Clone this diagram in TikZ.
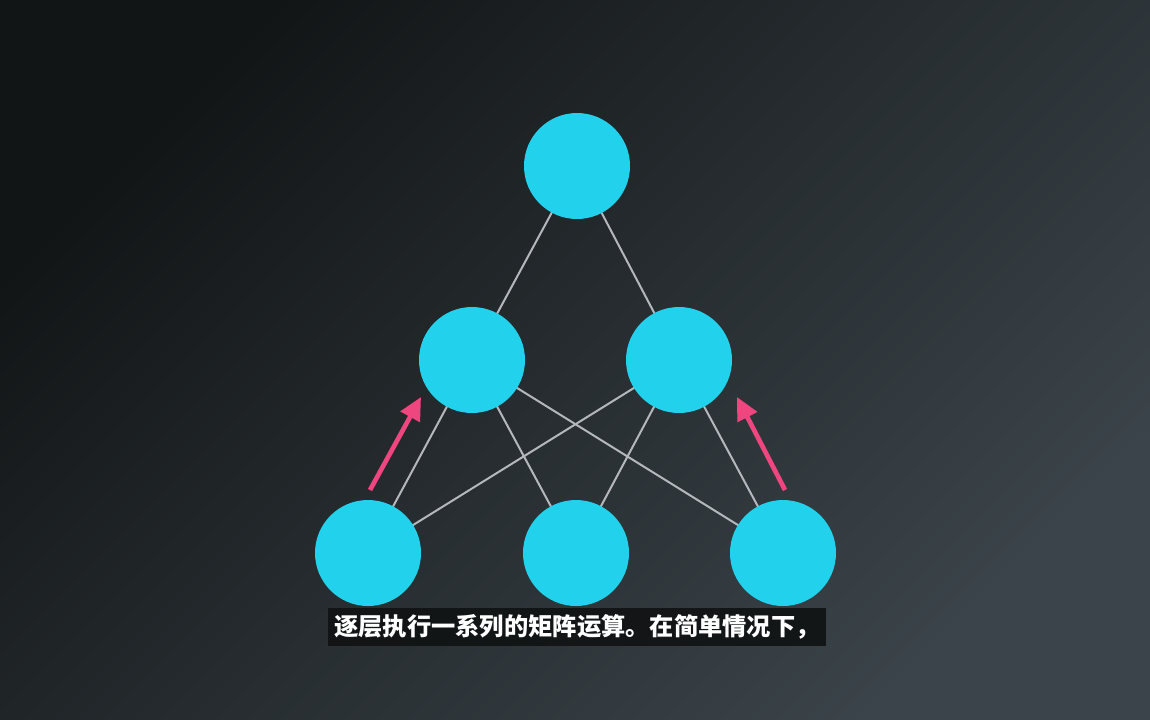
\documentclass[tikz,border=0pt]{standalone}
\usepackage{fontspec}
\newfontfamily\cjk{Noto Sans CJK SC}
\usepackage{tikz}
\usetikzlibrary{arrows.meta}
\definecolor{bgdark}{HTML}{121516}
\definecolor{bglight}{HTML}{3B444A}
\definecolor{neuron}{HTML}{22D1EC}
\definecolor{wire}{HTML}{B4B8BC}
\definecolor{flow}{HTML}{F0467F}
\definecolor{capbg}{HTML}{101213}
\pgfdeclarelayer{back}
\pgfdeclarelayer{wires}
\pgfsetlayers{back,wires,main}

\begin{document}
\begin{tikzpicture}[x=0.75pt,y=-0.75pt,>={Triangle[length=17pt,width=16pt]},
    unit/.style={circle,fill=neuron,minimum size=79.5pt,inner sep=0pt},
    link/.style={wire,line width=1.5pt},
    push/.style={->,flow,line width=3.5pt}]
  \begin{pgfonlayer}{back}
    \shade[top color=bgdark,bottom color=bglight,shading angle=45]
      (0,0) rectangle (1150,719);
  \end{pgfonlayer}
  \useasboundingbox (0,0) rectangle (1150,719);
  % neurons
  \node (o) at (577,166) [unit] {};
  \node (h1) at (472,360) [unit] {};
  \node (h2) at (679,360) [unit] {};
  \node (i1) at (368,553) [unit] {};
  \node (i2) at (576,553) [unit] {};
  \node (i3) at (783,553) [unit] {};
  % connections
  \begin{pgfonlayer}{wires}
    \foreach \h in {h1, h2}
    {
      \draw[link] (o.center) -- (\h.center);
      \foreach \i in {i1, i2, i3}
        \draw[link] (\h.center) -- (\i.center);
    }
  \end{pgfonlayer}
  % forward arrows
  \coordinate (la0) at (370,490);
  \coordinate (la1) at (421,397);
  \coordinate (ra0) at (785,490);
  \coordinate (ra1) at (737,397);
  \draw[push] (la0) -- (la1);
  \draw[push] (ra0) -- (ra1);
  % subtitle
  \node (cap) at (577,627) [fill=capbg,fill opacity=0.9,text opacity=1,text=white,
    minimum width=373.5pt,minimum height=28.5pt,inner sep=0pt]
    {\cjk\bfseries\fontsize{18.2pt}{20pt}\selectfont 逐层执行一系列的矩阵运算。在简单情况下，};
\end{tikzpicture}
\end{document}
